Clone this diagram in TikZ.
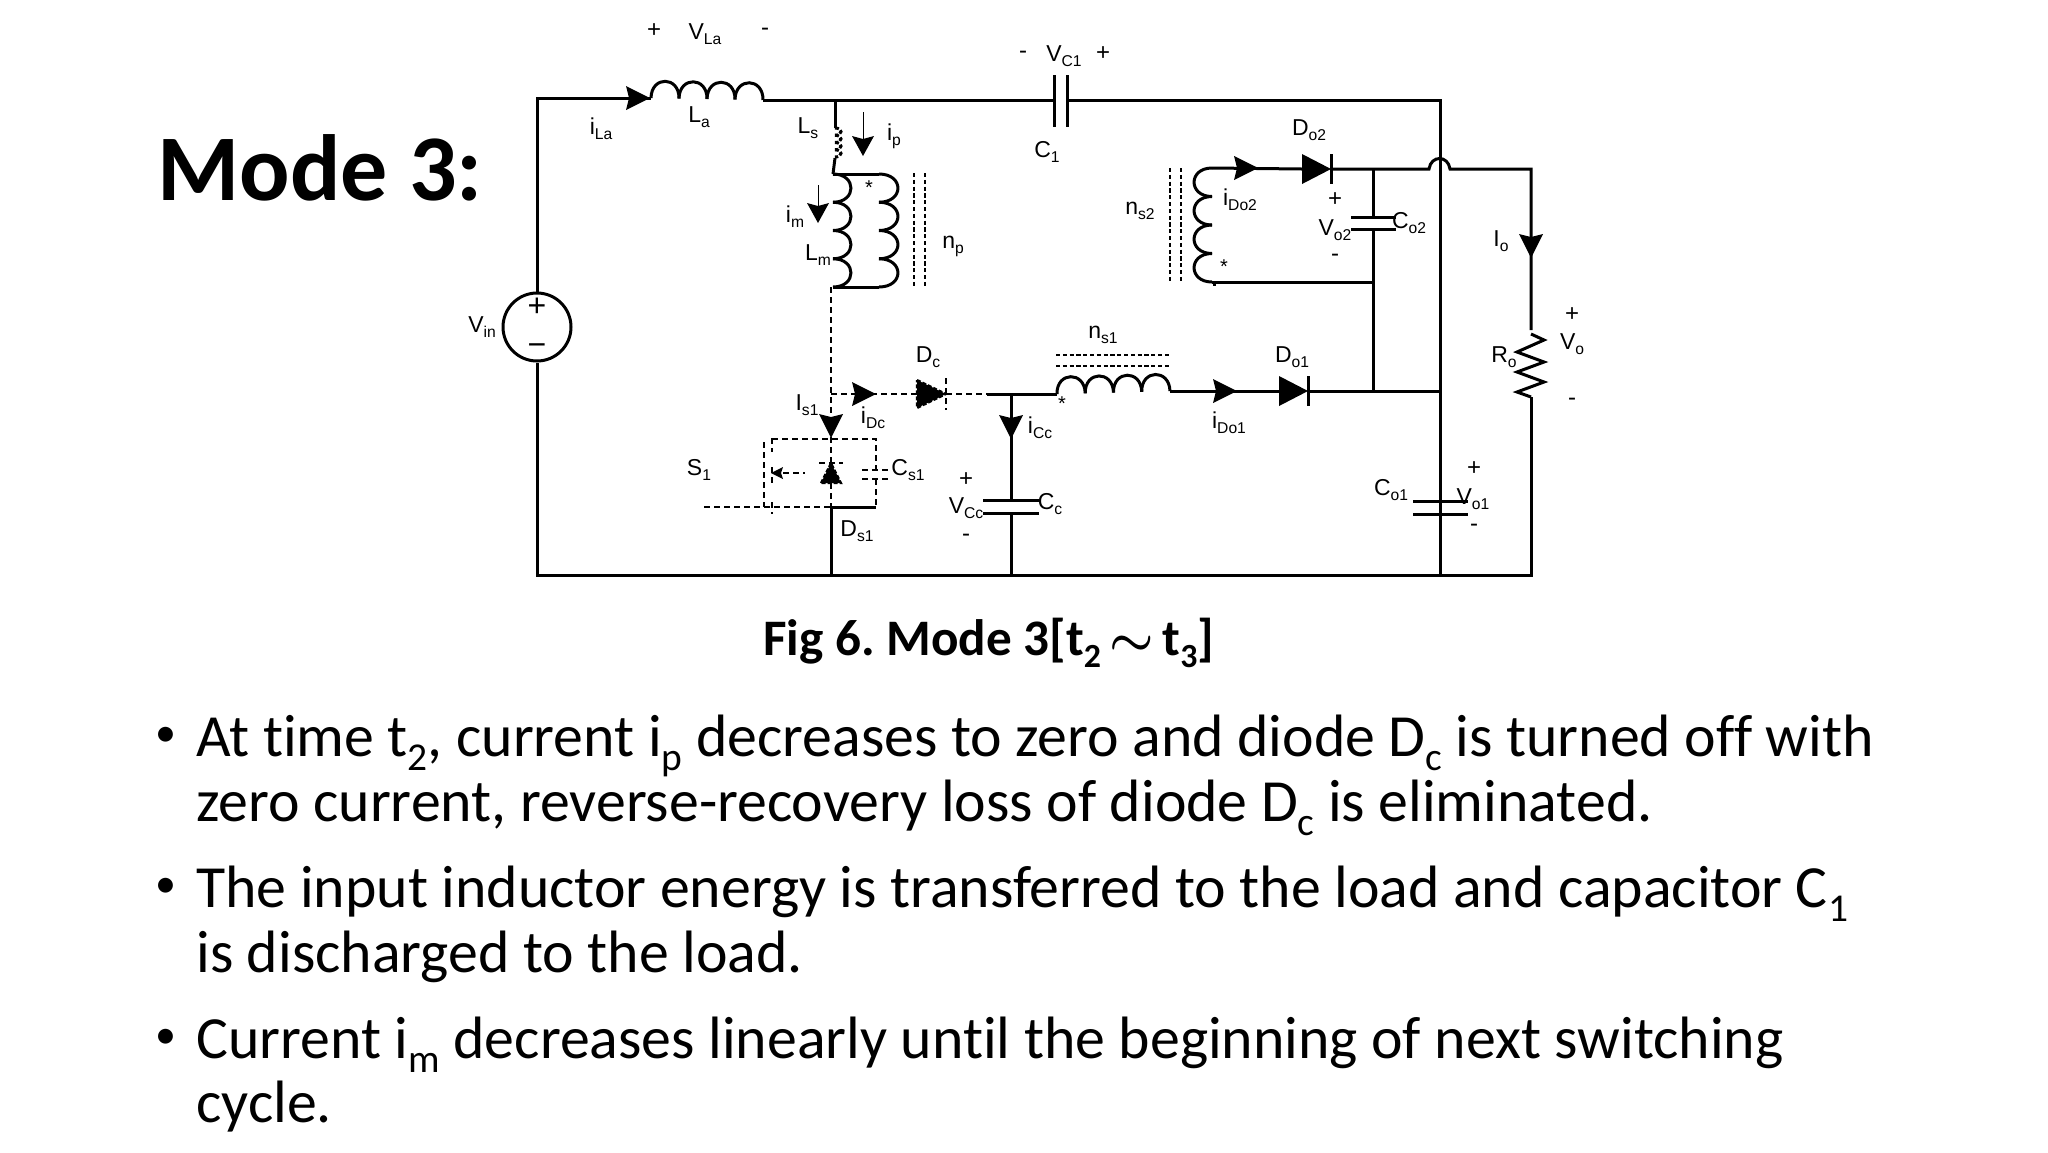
\documentclass[tikz,border=0pt]{standalone}
\usepackage{fontspec}
\setmainfont{Carlito}[Ligatures=NoCommon]
\newfontfamily\cktfont{Liberation Sans}
\newcommand{\lsub}[1]{\raisebox{-0.22em}{\scalebox{0.68}{#1}}}
\newcommand{\tsub}[1]{\raisebox{-0.24em}{\scalebox{0.66}{#1}}}
\tikzset{
  wire/.style={line width=1.5pt,line join=miter},
  dsh/.style={wire,line width=1.4pt,dash pattern=on 3.2pt off 1.8pt},
  core/.style={line width=1.3pt,dash pattern=on 2.1pt off 1.3pt},
  lbl/.style={font=\cktfont\fontsize{11.5}{13}\selectfont,inner sep=0pt,anchor=center},
  sym/.style={font=\cktfont\fontsize{12}{13}\selectfont,inner sep=0pt,anchor=center},
  star/.style={font=\cktfont\fontsize{10}{12}\selectfont,inner sep=0pt,anchor=center},
  bodyline/.style={font=\frenchspacing\fontsize{29.9}{32}\selectfont,inner sep=0pt,anchor=base west},
  bullet/.style={font=\fontsize{21}{24}\selectfont,inner sep=0pt,anchor=center},
  pics/hcoil/.style 2 args={code={
    \foreach \k in {0,1,2,3}
      \draw[wire] (\k*#1,0) .. controls (\k*#1,-1.33*#2) and (\k*#1+#1,-1.33*#2) .. (\k*#1+#1,0);
  }},
  pics/vcoil/.style 2 args={code={
    \foreach \k in {0,1,2,3}
      \draw[wire] (0,\k*#1) .. controls (1.33*#2,\k*#1) and (1.33*#2,\k*#1+#1) .. (0,\k*#1+#1);
  }},
  pics/head/.style={code={
    \fill (0,0) -- (-24,-12) -- (-21,0) -- (-24,12) -- cycle;
  }},
  pics/thinhead/.style={code={
    \fill (0,0) -- (-20,-11) -- (-17,0) -- (-20,11) -- cycle;
  }},
  pics/diode/.style 2 args={code={
    \fill (0,-#2) -- (#1,0) -- (0,#2) -- cycle;
    \draw[wire] (#1,-#2) -- (#1,#2);
  }},
  pics/ddiode/.style 2 args={code={
    \fill (0,-#2) -- (#1,0) -- (0,#2) -- cycle;
    \draw[dsh,line width=1.1pt,dash pattern=on 2pt off 1pt] (0,-#2) -- (#1,0) -- (0,#2) -- cycle;
    \draw[dsh] (#1,-#2-2) -- (#1,#2+2);
  }},
}
\begin{document}
\begin{tikzpicture}[x=0.5pt,y=-0.5pt]
\useasboundingbox (0,0) rectangle (2048,1152);

% source
\node[circle,draw,line width=1.5pt,minimum size=34pt,inner sep=0pt] (vin) at (537,327) {};
\node[sym,font=\cktfont\fontsize{16}{16}\selectfont] (vinp) at (537,307) {+};
\node[sym,font=\cktfont\fontsize{16}{16}\selectfont] (vinm) at (537,350) {\symbol{"2212}};

% corners and junctions
\coordinate (tl) at (537,98);
\coordinate (bl) at (537,575);
\coordinate (br) at (1531,575);
\coordinate (lal) at (651,98);
\coordinate (lar) at (763,100);
\coordinate (topj) at (835,100);
\coordinate (c1l) at (1054,100);
\coordinate (c1r) at (1067,100);
\coordinate (tr) at (1440,100);
\coordinate (brj) at (1440,575);
\coordinate (lst) at (835,128);
\coordinate (lsb) at (835,157);
\coordinate (pt) at (833,174);
\coordinate (pb) at (833,287);
\coordinate (npt) at (879,174);
\coordinate (npb) at (879,287);
\coordinate (sw) at (831,287);
\coordinate (dcj) at (831,394);
\coordinate (st) at (831,439);
\coordinate (ds1t) at (831,463);
\coordinate (ds1b) at (831,483);
\coordinate (sb) at (831,507);
\coordinate (sg) at (831,575);
\coordinate (stl) at (772,439);
\coordinate (str) at (876,439);
\coordinate (sbr) at (876,507);
\coordinate (cs1t) at (876,470);
\coordinate (cs1b) at (876,479);
\coordinate (gate) at (704,507);
\coordinate (gatej) at (764,507);
\coordinate (dca) at (917,394);
\coordinate (dck) at (946,394);
\coordinate (dcs) at (987,394);
\coordinate (ccj) at (1011,394);
\coordinate (nsl) at (1057,394);
\coordinate (nsr) at (1170,391);
\coordinate (do1a) at (1279,391);
\coordinate (do1k) at (1308,391);
\coordinate (o1j) at (1373,391);
\coordinate (o1r) at (1440,391);
\coordinate (cct) at (1011,500);
\coordinate (ccb) at (1011,513);
\coordinate (ccg) at (1011,575);
\coordinate (co1t) at (1440,501);
\coordinate (co1b) at (1440,514);
\coordinate (ns2t) at (1212,168);
\coordinate (ns2b) at (1212,282);
\coordinate (do2a) at (1302,169);
\coordinate (do2k) at (1331,169);
\coordinate (o2j) at (1373,169);
\coordinate (hopl) at (1429,169);
\coordinate (hopr) at (1450,169);
\coordinate (rtr) at (1531,169);
\coordinate (rt) at (1531,330);
\coordinate (rb) at (1531,397);
\coordinate (co2t) at (1373,217);
\coordinate (co2b) at (1373,229);
\coordinate (ns2j) at (1373,282);

% solid wires
\draw[wire] (vin.north) -- (tl) -- (lal);
\draw[wire] (vin.south) -- (bl) -- (br) -- (rb);
\draw[wire] (lar) -- (c1l);
\draw[wire] (c1r) -- (tr) -- (brj);
\draw[wire] (topj) -- (lst);
\draw[wire] (lsb) ++(0,1) -- (pt);
\draw[wire] (pt) -- (npt);
\draw[wire] (pb) -- (npb);
\draw[wire] (sb) -- (sg);
\draw[wire] (sb) -- (sbr);
\draw[wire] (dcs) -- (nsl);
\draw[wire] (ccj) -- (cct);
\draw[wire] (ccb) -- (ccg);
\draw[wire] (nsr) -- (do1a);
\draw[wire] (do1k) -- (o1r);
\draw[wire] (o1j) -- (co2b);
\draw[wire] (o2j) -- (co2t);
\draw[wire] (co1b) -- (brj);
\draw[wire] (ns2t) -- (do2a);
\draw[wire] (do2k) -- (hopl) .. controls ++(2,-14) and (1448,155) .. (hopr) -- (rtr) -- (rt);
\draw[wire] (ns2b) -- (ns2j);
\draw[wire] (1214,282) -- (1214,286);

% dashed (off) branch
\draw[dsh] (sw) -- (st) -- (ds1t);
\draw[dsh] (ds1b) -- (sb);
\draw[dsh] (dcj) -- (dca);
\draw[dsh] (dck) -- (dcs);
\draw[dsh] (stl) -- (str) -- (cs1t);
\draw[dsh] (cs1b) -- (sbr);
\draw[dsh] (gate) -- (sb);
\draw[dsh] (764,442) -- (gatej);
\draw[dsh] (772,438) -- (772,452);
\draw[dsh] (772,467) -- (772,483);
\draw[dsh] (772,502) -- (772,514);
\draw[dsh] (783,473) -- (805,473);
\fill (771,473) -- (783,467) -- (781,473) -- (783,479) -- cycle;
\draw[dsh] (862,470) -- (890,470);
\draw[dsh] (862,479) -- (890,479);

% inductors and transformer
\pic[rotate=-1] at (lal) {hcoil={28}{17}};
\pic[dash pattern=on 2pt off 1pt] at (lst) {vcoil={7.25}{6}};
\pic at (pt) {vcoil={28.25}{18}};
\pic at (npt) {vcoil={28.25}{19}};
\pic[rotate=1.5] at (nsl) {hcoil={28.25}{17}};
\pic at (ns2t) {vcoil={28.5}{-18}};
\draw[core] (914,173) -- (914,287);
\draw[core] (925,173) -- (925,287);
\draw[core] (1170,168) -- (1170,283);
\draw[core] (1181,168) -- (1181,283);
\draw[core] (1056,355) -- (1171,355);
\draw[core] (1056,366) -- (1171,366);

% capacitors
\draw[wire] (c1l) ++(0,-25) -- ++(0,52);
\draw[wire] (c1r) ++(0,-25) -- ++(0,52);
\draw[wire] (1351,217) -- (1396,217);
\draw[wire] (1351,229) -- (1396,229);
\draw[wire] (983,500) -- (1039,500);
\draw[wire] (983,513) -- (1039,513);
\draw[wire] (1413,501) -- (1468,501);
\draw[wire] (1413,514) -- (1468,514);

% diodes
\pic at (do2a) {diode={29}{15}};
\pic at (do1a) {diode={29}{15}};
\pic at (dca) {ddiode={29}{14}};
\pic[rotate=90] at (ds1b) {ddiode={20}{10}};

% resistor
\draw[wire,line join=miter] (rt) ++(0,4) -- (1544,340) -- (1517,352) -- (1544,362) -- (1517,372) -- (1544,382) -- (1517,392) -- (rb);

% current arrows
\pic at (650,98) {head};
\pic at (1258,168) {head};
\pic at (1237,391) {head};
\pic at (876,394) {head};
\pic[rotate=-90] at (831,438) {head};
\pic[rotate=-90] at (1011,439) {head};
\pic[rotate=-90] at (1531,258) {head};
\pic[rotate=-90] at (863,156) {thinhead};
\pic[rotate=-90] at (818,223) {thinhead};
\draw[line width=0.4pt] (863,112) -- (863,140);
\draw[line width=0.4pt] (818,185) -- (818,207);

% circuit labels
\node[sym] (pla) at (654,31) {+};
\node[lbl] (vla) at (705,34) {V\lsub{La}};
\node[sym] (mla) at (765,32) {-};
\node[lbl] (ila) at (601,129) {i\lsub{La}};
\node[lbl] (la) at (699,117) {L\lsub{a}};
\node[lbl] (ls) at (808,128) {L\lsub{s}};
\node[lbl] (ip) at (894,136) {i\lsub{p}};
\node[lbl] (im) at (795,217) {i\lsub{m}};
\node[lbl] (lm) at (818,255) {L\lsub{m}};
\node[star] (stp) at (869,188) {*};
\node[lbl] (np) at (953,246) {n\lsub{p}};
\node[lbl] (vinl) at (482,327) {V\lsub{in}};
\node[sym] (mc1) at (1023,55) {-};
\node[lbl] (vc1) at (1064,56) {V\lsub{C1}};
\node[sym] (pc1) at (1103,54) {+};
\node[lbl] (c1) at (1047,152) {C\lsub{1}};
\node[lbl] (do2) at (1309,130) {D\lsub{o2}};
\node[lbl] (ns2) at (1140,211) {n\lsub{s2}};
\node[lbl] (ido2) at (1240,200) {i\lsub{Do2}};
\node[star] (sts2) at (1224,267) {*};
\node[sym] (po2) at (1335,200) {+};
\node[lbl] (vo2) at (1335,230) {V\lsub{o2}};
\node[sym] (mo2) at (1335,258) {-};
\node[lbl] (co2) at (1409,223) {C\lsub{o2}};
\node[lbl] (io) at (1501,241) {I\lsub{o}};
\node[lbl] (ns1) at (1103,335) {n\lsub{s1}};
\node[star] (sts1) at (1062,404) {*};
\node[lbl] (do1) at (1292,357) {D\lsub{o1}};
\node[lbl] (ido1) at (1229,423) {i\lsub{Do1}};
\node[lbl] (ro) at (1504,357) {R\lsub{o}};
\node[sym] (pvo) at (1572,315) {+};
\node[lbl] (vo) at (1572,344) {V\lsub{o}};
\node[sym] (mvo) at (1572,402) {-};
\node[lbl] (dc) at (928,357) {D\lsub{c}};
\node[lbl] (is1) at (807,405) {I\lsub{s1}};
\node[lbl] (idc) at (873,418) {i\lsub{Dc}};
\node[lbl] (icc) at (1040,428) {i\lsub{Cc}};
\node[lbl] (s1) at (699,470) {S\lsub{1}};
\node[lbl] (cs1) at (908,470) {C\lsub{s1}};
\node[lbl] (ds1) at (857,531) {D\lsub{s1}};
\node[sym] (pcc) at (966,480) {+};
\node[lbl] (vcc) at (966,508) {V\lsub{Cc}};
\node[sym] (mcc) at (966,538) {-};
\node[lbl] (cc) at (1050,504) {C\lsub{c}};
\node[lbl] (co1) at (1391,490) {C\lsub{o1}};
\node[sym] (po1) at (1474,469) {+};
\node[lbl] (vo1) at (1473,499) {V\lsub{o1}};
\node[sym] (mo1) at (1474,528) {-};

% slide text
\node[inner sep=0pt,anchor=base west,font=\bfseries\fontsize{47}{50}\selectfont] (title) at (157,200) {Mode 3:};
\node[inner sep=0pt,anchor=base west,font=\frenchspacing\bfseries\fontsize{25.6}{28}\selectfont] (cap) at (763,655) {Fig 6. Mode 3[t\tsub{2}\,{\boldmath$\sim$}\,t\tsub{3}]};
\node[bullet] (b1) at (166,737) {•};
\node[bullet] (b2) at (166,888) {•};
\node[bullet] (b3) at (166,1039) {•};
\node[bodyline] (l1) at (196,756) {At time t\tsub{2}, current i\tsub{p} decreases to zero and diode D\tsub{c} is turned off with};
\node[bodyline] (l2) at (196,821) {zero current, reverse-recovery loss of diode D\tsub{c} is eliminated.};
\node[bodyline] (l3) at (196,907) {The input inductor energy is transferred to the load and capacitor C\tsub{1}};
\node[bodyline] (l4) at (196,972) {is discharged to the load.};
\node[bodyline] (l5) at (196,1058) {Current i\tsub{m} decreases linearly until the beginning of next switching};
\node[bodyline] (l6) at (196,1122) {cycle.};
\end{tikzpicture}
\end{document}
